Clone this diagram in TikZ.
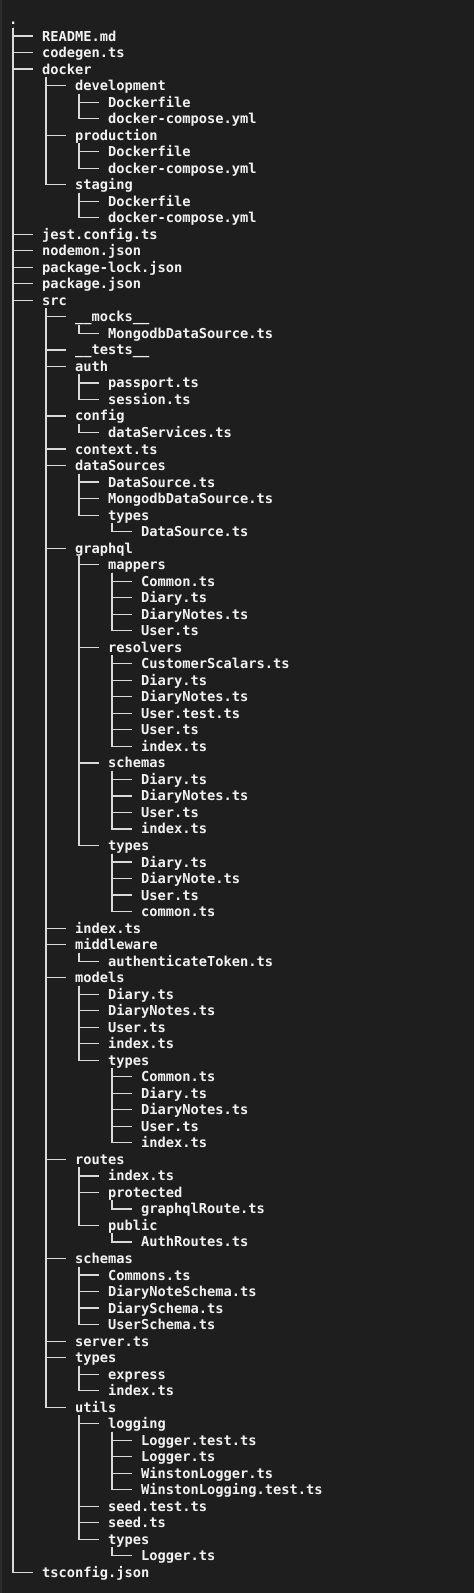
\documentclass[tikz,border=0pt]{standalone}
\usepackage{fontspec}
\setmonofont{DejaVu Sans Mono}
\usepackage{tikz}
\usepackage{xcolor}
\definecolor{fond}{HTML}{1E1E1E}
\definecolor{bord}{HTML}{2C2C2C}
\definecolor{texte}{HTML}{F2F2F2}
\definecolor{trait}{HTML}{DADADA}

\begin{document}
\begin{tikzpicture}[x = 1pt, y = 1pt,
    entree/.style = {anchor = west, inner sep = 0, text = texte, text height = 10pt,
        text depth = 0pt, font = \ttfamily\bfseries\fontsize{13.7}{16}\selectfont},
    branche/.style = {draw = trait, line width = 1.2pt}]
% Fond du terminal
\fill[fond] (0, 0) rectangle (474, -1593);
\fill[bord] (0, 0) rectangle (2, -1593);
\useasboundingbox (0, 0) rectangle (474, -1593);

% Racine de l'arborescence
\node[entree] (racine) at (9, -19.5) {.};

% Chaque entrée : niveau/nom/père/texte (la ligne vient du compteur)
\foreach \niv/\nom/\pere/\txt [count = \ligne] in {
    1/readme/racine/README.md,
    1/codegen/racine/codegen.ts,
    1/docker/racine/docker,
    2/dev/docker/development,
    3/devdf/dev/Dockerfile,
    3/devdc/dev/docker-compose.yml,
    2/prod/docker/production,
    3/proddf/prod/Dockerfile,
    3/proddc/prod/docker-compose.yml,
    2/stag/docker/staging,
    3/stagdf/stag/Dockerfile,
    3/stagdc/stag/docker-compose.yml,
    1/jest/racine/jest.config.ts,
    1/nodemon/racine/nodemon.json,
    1/pklock/racine/package-lock.json,
    1/pkjson/racine/package.json,
    1/src/racine/src,
    2/mocks/src/\_\_mocks\_\_,
    3/mocksmongo/mocks/MongodbDataSource.ts,
    2/tests/src/\_\_tests\_\_,
    2/auth/src/auth,
    3/passport/auth/passport.ts,
    3/session/auth/session.ts,
    2/config/src/config,
    3/dataserv/config/dataServices.ts,
    2/context/src/context.ts,
    2/dsrc/src/dataSources,
    3/dsrcds/dsrc/DataSource.ts,
    3/dsrcmongo/dsrc/MongodbDataSource.ts,
    3/dsrctypes/dsrc/types,
    4/dsrctypesds/dsrctypes/DataSource.ts,
    2/gql/src/graphql,
    3/mappers/gql/mappers,
    4/mapcommon/mappers/Common.ts,
    4/mapdiary/mappers/Diary.ts,
    4/mapnotes/mappers/DiaryNotes.ts,
    4/mapuser/mappers/User.ts,
    3/resolvers/gql/resolvers,
    4/rescustom/resolvers/CustomerScalars.ts,
    4/resdiary/resolvers/Diary.ts,
    4/resnotes/resolvers/DiaryNotes.ts,
    4/resusertest/resolvers/User.test.ts,
    4/resuser/resolvers/User.ts,
    4/resindex/resolvers/index.ts,
    3/gqlschemas/gql/schemas,
    4/schdiary/gqlschemas/Diary.ts,
    4/schnotes/gqlschemas/DiaryNotes.ts,
    4/schuser/gqlschemas/User.ts,
    4/schindex/gqlschemas/index.ts,
    3/gqltypes/gql/types,
    4/gtdiary/gqltypes/Diary.ts,
    4/gtnote/gqltypes/DiaryNote.ts,
    4/gtuser/gqltypes/User.ts,
    4/gtcommon/gqltypes/common.ts,
    2/srcindex/src/index.ts,
    2/middleware/src/middleware,
    3/authtoken/middleware/authenticateToken.ts,
    2/models/src/models,
    3/moddiary/models/Diary.ts,
    3/modnotes/models/DiaryNotes.ts,
    3/moduser/models/User.ts,
    3/modindex/models/index.ts,
    3/modtypes/models/types,
    4/mtcommon/modtypes/Common.ts,
    4/mtdiary/modtypes/Diary.ts,
    4/mtnotes/modtypes/DiaryNotes.ts,
    4/mtuser/modtypes/User.ts,
    4/mtindex/modtypes/index.ts,
    2/routes/src/routes,
    3/rtindex/routes/index.ts,
    3/protected/routes/protected,
    4/gqlroute/protected/graphqlRoute.ts,
    3/public/routes/public,
    4/authroutes/public/AuthRoutes.ts,
    2/schemas/src/schemas,
    3/commons/schemas/Commons.ts,
    3/notesschema/schemas/DiaryNoteSchema.ts,
    3/diaryschema/schemas/DiarySchema.ts,
    3/userschema/schemas/UserSchema.ts,
    2/server/src/server.ts,
    2/types/src/types,
    3/express/types/express,
    3/typesindex/types/index.ts,
    2/utils/src/utils,
    3/logging/utils/logging,
    4/loggertest/logging/Logger.test.ts,
    4/logger/logging/Logger.ts,
    4/winston/logging/WinstonLogger.ts,
    4/winstontest/logging/WinstonLogging.test.ts,
    3/seedtest/utils/seed.test.ts,
    3/seed/utils/seed.ts,
    3/utypes/utils/types,
    4/utlogger/utypes/Logger.ts,
    1/tsconfig/racine/tsconfig.json}{
    \node[entree] (\nom) at (33 * \niv + 9, -19.5 - 16.52 * \ligne) {\txt};
    \draw[branche] ([shift = {(4, -8)}]\pere.west) |- ([xshift = -9pt]\nom.west);
}
\end{tikzpicture}
\end{document}
